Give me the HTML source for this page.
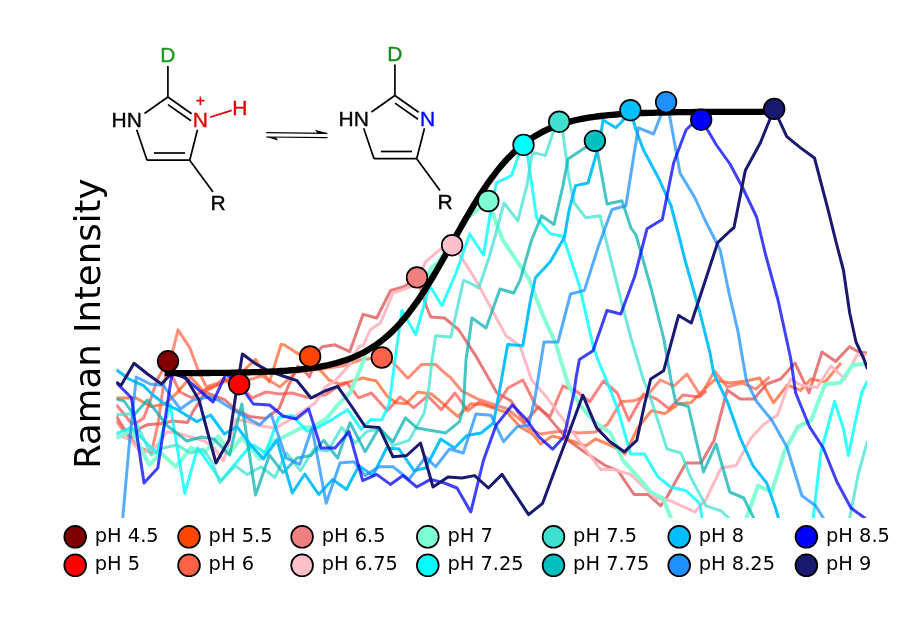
<!DOCTYPE html>
<html><head><meta charset="utf-8"><title>Raman Intensity vs pH</title>
<style>
html,body{margin:0;padding:0;background:#fff;}
body{width:915px;height:642px;overflow:hidden;}
svg{display:block;}
.dj{font-family:"DejaVu Sans","Liberation Sans",sans-serif;}
.ar{font-family:"Liberation Sans","DejaVu Sans",sans-serif;}
</style></head><body>
<svg width="915" height="642" viewBox="0 0 915 642">
<defs><clipPath id="ax"><rect x="116.3" y="0" width="750.7" height="518"/></clipPath></defs>
<rect width="915" height="642" fill="#fff"/>

<g clip-path="url(#ax)" fill="none" stroke-linejoin="round" stroke-linecap="butt">
<polyline points="116.2,404.6 123.0,412.8 131.7,423.7 137.0,422.6 143.7,418.0 148.0,407.0 152.4,394.0 157.0,380.0 164.0,368.0 172.0,376.0 180.0,392.0 192.0,398.0 206.0,389.0 218.2,384.0 226.0,380.0 239.0,384.0 252.0,398.0 266.0,392.0 280.0,394.0 291.8,393.0 309.5,397.9 325.2,394.9 337.0,387.0 346.9,383.0 358.7,397.9 371.5,393.0 387.2,410.7 400.0,396.9 413.8,407.7 427.6,395.9 441.3,409.7 455.0,393.0 467.7,410.7 479.5,401.8 495.0,407.7 508.0,388.0 522.8,380.0 536.6,406.7 550.0,416.6 563.0,386.0 576.0,391.0 589.7,401.8 603.5,381.0 617.2,393.0 628.9,420.5 643.6,394.0 656.4,398.9 669.0,408.7 683.0,395.0 698.7,396.9 706.6,391.0" stroke="rgba(250,45,45,0.6)" stroke-width="3.0"/>
<polyline points="116.3,398.0 135.6,397.7 151.3,406.6 165.0,404.0 177.0,392.8 190.7,377.0 204.0,392.0 218.0,385.0 230.0,378.0 242.0,372.0 255.6,359.4 269.4,382.0 281.0,344.6 284.0,344.8 297.7,353.6 310.0,362.0 322.3,372.3 329.0,380.0 339.0,384.0 348.9,382.0 362.6,378.0 376.4,381.0 387.0,396.0 396.0,402.8 406.0,403.8 417.7,392.0 431.5,394.0 443.3,403.8 457.9,416.6 470.7,403.8 483.4,404.8 507.0,412.6 520.8,427.4 532.6,434.0 540.5,444.0 552.3,436.0 572.0,441.0 585.7,446.0 595.6,439.0 607.4,444.0 619.2,450.0 625.0,454.0 637.7,428.0 651.5,410.7 665.0,413.6 679.0,403.8 690.8,402.8 704.6,389.0 714.4,380.0 730.0,383.0 746.0,381.0 759.7,378.0 773.5,402.8 787.5,385.0 800.5,390.4 811.0,379.0 825.0,382.0 841.0,363.0" stroke="rgba(255,69,0,0.62)" stroke-width="3.0"/>
<polyline points="116.3,421.0 126.0,434.0 139.5,447.0 151.3,453.0 158.0,423.7 163.4,385.5 170.0,362.0 178.0,329.9 189.7,347.6 198.6,371.2 206.4,387.0 218.2,383.0 224.0,378.0 236.0,392.0 248.0,380.0 262.0,376.0 280.0,387.0 295.7,372.3 319.3,369.3 345.0,365.4 360.0,360.0 381.8,357.0 393.0,362.5 407.9,378.2 421.6,364.4 435.4,364.4 447.2,375.2 450.0,377.0 461.8,391.0 477.5,398.9 495.0,404.8 507.0,408.7 518.9,418.5 528.7,428.4 540.5,434.0 554.3,432.0 566.0,431.0 577.9,433.0 595.6,432.0 607.4,424.4 621.0,401.8 633.8,400.8 647.5,395.0 660.3,380.0 674.0,386.0 686.9,374.0 700.7,396.0 714.4,371.0 727.2,387.0 742.0,383.0 755.7,389.0 769.5,377.0" stroke="rgba(255,99,71,0.72)" stroke-width="3.0"/>
<polyline points="116.2,416.0 123.0,427.0 131.0,437.0 134.0,437.0 140.4,428.0 147.0,424.8 160.0,423.7 173.2,421.0 187.4,422.6 192.9,411.7 199.4,401.9 204.9,392.0 212.0,395.0 225.0,400.0 236.0,410.0 249.7,416.4 265.5,418.4 279.0,408.6 287.9,387.0 297.7,366.4 303.0,369.0 309.5,377.0 319.3,349.7 322.3,346.7 335.0,344.8 349.8,351.6 363.0,314.4 376.7,318.0 390.6,290.5 404.0,286.7 417.0,277.4 419.5,285.5 427.0,308.0 430.8,317.0 444.6,318.0 458.9,330.0 475.6,355.6 497.0,393.0 511.0,400.8 524.8,422.5 538.5,406.7 548.0,416.6 568.0,440.0 584.0,451.8 605.4,465.6 618.0,470.6 634.0,494.5 648.0,494.5 660.7,505.8 667.0,497.0 685.9,463.0 701.0,463.0 714.0,440.4 727.2,390.0 740.0,398.9 753.8,398.9 766.8,384.0 780.6,379.0 795.0,363.0 809.0,392.7 822.0,352.0 835.7,361.4 849.5,346.8 858.6,352.0 867.5,353.0" stroke="rgba(225,90,90,0.8)" stroke-width="3.0"/>
<polyline points="116.3,434.0 130.0,440.0 141.5,453.0 155.0,448.0 167.0,432.0 177.0,433.0 190.7,437.0 204.5,441.0 214.0,448.0 223.5,461.0 235.4,419.5 247.7,421.6 259.6,425.5 275.3,428.5 291.8,418.5 303.6,410.7 315.4,402.8 325.2,387.0 335.0,381.0 348.9,365.4 358.7,346.7 363.0,345.8 370.4,329.5 380.5,323.0 393.0,293.0 400.6,290.5 415.0,285.0 425.7,261.6 440.8,249.0 452.0,245.0 461.0,256.6 476.0,280.4 491.0,308.0 506.0,335.7 520.0,345.7 531.6,380.0 545.0,395.2 600.4,469.4 613.0,469.4 630.6,474.4 655.7,498.3 670.8,500.8 694.7,512.0 706.0,499.5 721.0,468.0 736.0,465.6 751.0,438.0 763.6,424.4 777.5,415.0 790.5,379.0 800.5,385.0 817.3,387.4 831.0,366.0 844.9,379.0 857.0,355.0 867.5,354.5" stroke="rgba(255,182,193,0.95)" stroke-width="3.0"/>
<polyline points="116.3,438.3 131.7,430.4 140.0,447.0 149.4,464.9 161.0,453.0 176.0,466.8 190.7,448.0 204.5,453.0 218.2,436.3 230.0,453.0 241.8,437.3 259.6,459.0 273.3,441.0 283.0,437.3 301.0,428.0 313.6,426.6 326.0,419.0 337.6,405.0 350.0,392.7 357.7,375.0 364.0,360.0 365.4,351.0 390.0,336.0 398.0,326.0 420.0,300.0 431.0,268.0 438.0,263.0 463.0,222.0 476.0,211.0 488.0,201.0 492.6,213.0 502.7,240.0 529.0,279.0 543.0,315.5 555.5,343.0 566.8,380.0 567.7,383.9 580.0,405.0 594.0,421.6 610.4,432.9 623.0,460.5 638.0,476.9 650.7,492.0 663.0,498.0 670.8,518.0 673.0,530.0 744.0,530.0 746.6,518.0 758.0,485.7 771.7,492.0 784.3,451.8 798.0,426.6 811.2,420.3 825.0,384.3 840.3,382.8 852.5,365.0 867.5,363.7" stroke="rgba(127,255,212,0.95)" stroke-width="4.1"/>
<polyline points="116.3,433.4 131.7,427.5 141.5,438.0 157.0,453.0 170.0,404.0 184.8,493.4 197.6,448.0 221.0,480.6 247.7,449.0 253.6,445.0 265.5,453.0 278.7,417.5 292.5,415.6 307.2,431.3 318.0,427.4 333.0,419.0 347.6,409.7 361.3,429.3 371.0,419.5 381.6,420.0 389.0,405.0 395.0,360.0 401.9,310.6 415.7,334.5 429.5,285.5 442.0,305.6 456.0,273.0 469.7,234.0 483.6,255.0 490.0,215.0 496.4,183.0 511.5,175.5 518.0,157.0 523.5,145.0 527.8,157.0 536.6,218.0 550.4,233.8 563.0,236.3 579.4,285.4 593.0,345.7 598.0,360.0 605.4,377.6 618.0,410.0 630.6,454.0 644.4,454.0 658.0,477.0 670.8,487.0 686.0,490.7 699.7,503.3 702.0,518.0 704.0,530.0 811.0,530.0 813.2,518.0 820.7,453.0 834.6,401.5 843.3,428.0 848.4,455.5 854.0,428.0 861.7,392.7 867.5,381.0" stroke="rgba(0,255,255,0.8)" stroke-width="3.0"/>
<polyline points="116.3,414.7 131.7,413.7 151.3,455.0 163.0,448.0 177.0,445.0 190.7,453.0 203.0,449.0 212.0,462.0 219.7,482.5 235.4,465.7 247.2,474.6 261.0,466.7 274.8,477.5 286.6,453.0 300.4,470.7 314.0,449.0 328.0,451.0 341.6,427.4 355.4,443.0 367.2,431.3 380.0,429.3 393.0,445.5 409.0,440.4 424.3,412.8 429.3,385.0 432.0,360.0 435.8,335.7 450.9,337.0 463.5,280.4 470.0,283.0 478.8,288.0 489.0,257.7 494.0,240.0 504.0,203.0 517.8,220.8 527.0,185.0 532.3,152.4 545.4,155.4 553.0,132.8 559.0,122.0 563.0,134.0 569.3,180.5 574.3,203.0 585.6,217.7 600.0,215.7 607.0,244.0 622.0,304.0 631.0,338.0 643.5,380.0 648.0,390.0 667.0,449.0 681.0,453.0 691.0,478.0 706.0,505.8 721.0,510.8 728.6,518.0 731.0,530.0 848.0,530.0 849.7,518.0 858.5,473.0 867.5,441.0" stroke="rgba(64,224,208,0.75)" stroke-width="3.0"/>
<polyline points="116.3,399.0 124.0,401.0 134.0,415.0 147.4,400.0 167.0,425.5 186.8,441.0 201.5,437.0 214.0,439.0 229.5,455.0 241.8,404.0 255.6,495.0 269.4,455.0 283.0,472.7 297.0,458.0 311.0,455.5 323.7,440.4 337.6,458.0 350.0,422.8 365.2,451.8 379.0,427.9 393.0,441.7 405.5,417.8 416.8,427.9 445.7,432.9 459.5,421.6 463.3,407.8 466.0,360.0 472.0,318.0 486.0,328.0 500.0,289.0 513.7,293.0 520.0,280.4 531.6,240.0 541.6,215.7 554.0,224.5 563.0,185.6 568.0,159.0 586.9,146.6 595.0,141.0 598.0,155.0 607.0,204.0 622.0,200.7 631.0,228.0 636.0,235.0 651.0,288.0 663.6,338.0 671.0,380.0 675.8,402.7 688.4,406.5 703.5,471.9 716.0,444.0 729.8,492.0 743.7,498.0 753.7,518.0 755.0,521.0" stroke="rgba(0,175,175,0.72)" stroke-width="3.0"/>
<polyline points="116.3,369.8 129.0,379.0 143.5,385.6 152.7,394.8 162.8,402.7 177.9,410.0 196.7,421.6 210.6,415.0 224.4,434.0 237.0,426.6 250.8,445.0 263.3,459.0 277.0,440.0 292.3,493.0 304.8,474.0 318.7,494.5 332.6,479.4 346.4,489.5 359.0,465.6 372.8,475.6 386.6,448.0 399.0,449.0 414.0,470.6 425.6,468.0 440.7,439.0 454.5,448.0 467.0,435.4 481.0,433.0 493.5,423.0 501.4,380.0 507.7,344.4 522.8,345.7 530.0,303.0 535.4,277.8 550.4,261.5 564.3,237.6 569.0,210.7 575.6,185.6 588.0,183.0 599.5,143.0 603.0,120.0 615.8,127.8 622.0,121.5 630.4,110.0 636.0,130.0 643.5,150.0 658.5,178.0 671.0,205.7 680.0,240.0 685.0,260.0 700.0,313.0 710.0,353.0 713.5,372.6 727.7,402.7 740.3,438.0 752.9,465.6 766.7,483.0 775.5,508.0 778.5,518.0 779.5,521.0" stroke="rgba(0,191,255,0.95)" stroke-width="3.0"/>
<polyline points="122.6,520.0 129.0,447.0 136.3,377.0 150.0,384.0 163.6,385.5 172.0,398.0 180.4,409.0 193.0,400.0 209.3,397.0 218.0,400.0 238.0,412.8 259.6,424.9 271.0,414.0 278.4,435.4 286.0,458.0 299.8,464.3 312.0,428.0 326.2,503.3 340.0,463.0 354.0,461.8 365.2,475.6 379.0,466.8 393.0,466.8 409.0,479.4 425.6,456.8 435.6,466.8 449.5,449.0 463.3,453.0 475.9,414.0 491.0,415.3 503.5,441.7 517.3,426.6 528.6,425.4 535.0,397.7 537.9,380.0 544.0,342.0 558.0,342.0 570.5,294.0 584.4,290.4 598.0,247.6 608.0,220.0 612.0,209.5 625.9,205.7 634.7,150.0 638.4,127.8 653.5,134.0 661.0,115.0 666.0,102.0 670.0,117.7 680.0,173.0 695.0,198.0 705.0,220.0 720.2,250.0 729.0,293.0 737.8,330.6 742.8,360.0 746.6,381.4 756.6,401.5 771.7,420.0 786.8,446.7 801.9,495.7 815.7,505.8 823.3,518.0 825.0,521.0" stroke="rgba(30,144,255,0.75)" stroke-width="3.0"/>
<polyline points="116.3,382.6 131.4,397.7 144.0,483.0 157.8,468.0 171.6,376.0 176.0,372.0 185.0,378.0 199.0,390.0 213.0,402.0 226.0,374.0 239.0,384.0 253.3,404.0 269.6,405.0 283.0,416.0 296.0,419.0 308.6,409.0 321.0,448.0 335.0,448.0 349.0,431.6 362.7,480.7 376.6,474.4 390.4,484.4 403.0,475.6 416.8,487.0 430.6,479.4 444.4,483.0 457.0,488.0 470.8,512.0 483.4,460.5 496.0,425.4 512.3,405.0 526.0,419.0 538.7,436.7 552.6,449.2 564.0,436.7 574.0,392.7 576.0,378.0 579.4,359.5 593.0,350.7 607.0,310.5 620.8,314.0 634.7,276.6 647.0,228.8 662.3,219.5 673.6,163.0 686.0,130.0 691.0,125.0 701.0,120.0 707.6,130.0 716.4,145.0 730.0,164.0 742.8,188.0 756.6,217.0 765.4,254.0 778.0,300.0 790.6,358.0 795.6,392.7 809.4,426.6 823.3,448.0 837.0,482.0 851.0,508.0 864.7,518.0 868.0,521.0" stroke="rgba(0,0,255,0.75)" stroke-width="3.0"/>
<polyline points="116.0,382.0 121.0,385.5 134.0,363.3 147.5,374.0 161.4,384.0 172.0,373.0 186.0,378.0 199.0,400.0 207.0,430.0 216.0,463.0 229.0,440.0 235.0,400.0 242.4,354.0 256.0,364.0 269.0,371.0 283.0,376.0 297.0,380.7 311.0,398.0 325.0,391.0 337.6,386.4 350.0,404.0 365.2,426.6 379.0,427.4 393.0,456.8 406.7,455.5 420.5,443.0 433.0,487.0 448.0,477.0 462.0,478.0 474.6,475.6 488.4,488.0 502.0,474.4 515.0,494.0 528.6,514.6 542.6,503.3 556.0,467.0 569.6,431.0 582.8,395.2 596.6,427.9 610.0,441.7 624.3,451.8 636.8,440.4 644.4,405.0 650.7,378.9 663.6,370.8 678.6,315.5 691.3,323.0 704.5,283.0 717.7,242.6 730.0,231.0 734.0,227.5 745.3,170.5 760.4,142.8 770.5,117.7 774.0,109.0 778.0,117.7 786.8,136.6 800.6,147.9 814.5,158.0 828.3,210.7 835.8,241.0 843.4,270.0 849.7,313.0 856.0,342.0 863.5,358.0 867.5,369.0" stroke="rgba(25,25,112,1)" stroke-width="3.0"/>
</g>
<polyline points="164.5,373.2 168.5,373.2 172.5,373.2 176.5,373.2 180.5,373.2 184.5,373.1 188.5,373.1 192.5,373.1 196.5,373.1 200.5,373.0 204.5,373.0 208.5,373.0 212.5,372.9 216.5,372.9 220.5,372.9 224.5,372.8 228.5,372.8 232.5,372.7 236.5,372.6 240.5,372.5 244.5,372.5 248.5,372.4 252.5,372.2 256.5,372.1 260.5,372.0 264.5,371.8 268.5,371.7 272.5,371.5 276.5,371.3 280.5,371.0 284.5,370.8 288.5,370.5 292.5,370.1 296.5,369.8 300.5,369.4 304.5,368.9 308.5,368.4 312.5,367.9 316.5,367.3 320.5,366.6 324.5,365.8 328.5,365.0 332.5,364.0 336.5,363.0 340.5,361.8 344.5,360.6 348.5,359.2 352.5,357.6 356.5,355.9 360.5,354.0 364.5,352.0 368.5,349.7 372.5,347.2 376.5,344.5 380.5,341.6 384.5,338.4 388.5,334.9 392.5,331.2 396.5,327.1 400.5,322.8 404.5,318.1 408.5,313.2 412.5,307.9 416.5,302.4 420.5,296.5 424.5,290.4 428.5,284.1 432.5,277.5 436.5,270.7 440.5,263.7 444.5,256.7 448.5,249.5 452.5,242.3 456.5,235.1 460.5,228.0 464.5,220.9 468.5,214.0 472.5,207.2 476.5,200.6 480.5,194.3 484.5,188.2 488.5,182.3 492.5,176.8 496.5,171.6 500.5,166.6 504.5,162.0 508.5,157.7 512.5,153.6 516.5,149.9 520.5,146.5 524.5,143.3 528.5,140.3 532.5,137.6 536.5,135.2 540.5,132.9 544.5,130.9 548.5,129.0 552.5,127.3 556.5,125.8 560.5,124.4 564.5,123.1 568.5,122.0 572.5,120.9 576.5,120.0 580.5,119.2 584.5,118.4 588.5,117.7 592.5,117.1 596.5,116.5 600.5,116.0 604.5,115.6 608.5,115.2 612.5,114.8 616.5,114.5 620.5,114.2 624.5,114.0 628.5,113.7 632.5,113.5 636.5,113.3 640.5,113.2 644.5,113.0 648.5,112.9 652.5,112.8 656.5,112.6 660.5,112.5 664.5,112.5 668.5,112.4 672.5,112.3 676.5,112.2 680.5,112.2 684.5,112.1 688.5,112.1 692.5,112.1 696.5,112.0 700.5,112.0 704.5,112.0 708.5,111.9 712.5,111.9 716.5,111.9 720.5,111.9 724.5,111.8 728.5,111.8 732.5,111.8 736.5,111.8 740.5,111.8 744.5,111.8 748.5,111.8 752.5,111.8 756.5,111.8 760.5,111.8 764.5,111.7 768.5,111.7 772.5,111.7 774.0,111.7" fill="none" stroke="#000" stroke-width="6.3" stroke-linejoin="round"/>
<circle cx="168" cy="361.3" r="10.35" fill="#800000" stroke="#000" stroke-width="1.65"/>
<circle cx="239.2" cy="384.2" r="10.35" fill="#ff0000" stroke="#000" stroke-width="1.65"/>
<circle cx="310.1" cy="356.4" r="10.35" fill="#ff4500" stroke="#000" stroke-width="1.65"/>
<circle cx="381.8" cy="357.5" r="10.35" fill="#ff6347" stroke="#000" stroke-width="1.65"/>
<circle cx="417" cy="277.4" r="10.35" fill="#f08080" stroke="#000" stroke-width="1.65"/>
<circle cx="452.1" cy="245.2" r="10.35" fill="#ffc0cb" stroke="#000" stroke-width="1.65"/>
<circle cx="488.3" cy="201" r="10.35" fill="#7fffd4" stroke="#000" stroke-width="1.65"/>
<circle cx="523.5" cy="144.9" r="10.35" fill="#00ffff" stroke="#000" stroke-width="1.65"/>
<circle cx="559.2" cy="121.7" r="10.35" fill="#40e0d0" stroke="#000" stroke-width="1.65"/>
<circle cx="594.9" cy="140.8" r="10.35" fill="#00bfbf" stroke="#000" stroke-width="1.65"/>
<circle cx="630.4" cy="110.2" r="10.35" fill="#00bfff" stroke="#000" stroke-width="1.65"/>
<circle cx="666.1" cy="102.1" r="10.35" fill="#1e90ff" stroke="#000" stroke-width="1.65"/>
<circle cx="701.2" cy="119.7" r="10.35" fill="#0000ff" stroke="#000" stroke-width="1.65"/>
<circle cx="774.2" cy="108.9" r="10.35" fill="#191970" stroke="#000" stroke-width="1.65"/>
<circle cx="75.2" cy="536.85" r="10.9" fill="#800000" stroke="#000" stroke-width="1.7"/>
<text class="dj" x="94.8" y="541.6" font-size="19.4" fill="#000">pH 4.5</text>
<circle cx="75.2" cy="565.35" r="10.9" fill="#ff0000" stroke="#000" stroke-width="1.7"/>
<text class="dj" x="94.8" y="570.1" font-size="19.4" fill="#000">pH 5</text>
<circle cx="189" cy="536.85" r="10.9" fill="#ff4500" stroke="#000" stroke-width="1.7"/>
<text class="dj" x="208.6" y="541.6" font-size="19.4" fill="#000">pH 5.5</text>
<circle cx="189" cy="565.35" r="10.9" fill="#ff6347" stroke="#000" stroke-width="1.7"/>
<text class="dj" x="208.6" y="570.1" font-size="19.4" fill="#000">pH 6</text>
<circle cx="302.1" cy="536.85" r="10.9" fill="#f08080" stroke="#000" stroke-width="1.7"/>
<text class="dj" x="321.7" y="541.6" font-size="19.4" fill="#000">pH 6.5</text>
<circle cx="302.1" cy="565.35" r="10.9" fill="#ffc0cb" stroke="#000" stroke-width="1.7"/>
<text class="dj" x="321.7" y="570.1" font-size="19.4" fill="#000">pH 6.75</text>
<circle cx="427.8" cy="536.85" r="10.9" fill="#7fffd4" stroke="#000" stroke-width="1.7"/>
<text class="dj" x="447.4" y="541.6" font-size="19.4" fill="#000">pH 7</text>
<circle cx="427.8" cy="565.35" r="10.9" fill="#00ffff" stroke="#000" stroke-width="1.7"/>
<text class="dj" x="447.4" y="570.1" font-size="19.4" fill="#000">pH 7.25</text>
<circle cx="553.5" cy="536.85" r="10.9" fill="#40e0d0" stroke="#000" stroke-width="1.7"/>
<text class="dj" x="573.1" y="541.6" font-size="19.4" fill="#000">pH 7.5</text>
<circle cx="553.5" cy="565.35" r="10.9" fill="#00bfbf" stroke="#000" stroke-width="1.7"/>
<text class="dj" x="573.1" y="570.1" font-size="19.4" fill="#000">pH 7.75</text>
<circle cx="679.2" cy="536.85" r="10.9" fill="#00bfff" stroke="#000" stroke-width="1.7"/>
<text class="dj" x="698.8" y="541.6" font-size="19.4" fill="#000">pH 8</text>
<circle cx="679.2" cy="565.35" r="10.9" fill="#1e90ff" stroke="#000" stroke-width="1.7"/>
<text class="dj" x="698.8" y="570.1" font-size="19.4" fill="#000">pH 8.25</text>
<circle cx="806.4" cy="536.85" r="10.9" fill="#0000ff" stroke="#000" stroke-width="1.7"/>
<text class="dj" x="826.0" y="541.6" font-size="19.4" fill="#000">pH 8.5</text>
<circle cx="806.4" cy="565.35" r="10.9" fill="#191970" stroke="#000" stroke-width="1.7"/>
<text class="dj" x="826.0" y="570.1" font-size="19.4" fill="#000">pH 9</text>
<text class="dj" transform="translate(99.7,468.8) rotate(-90)" font-size="35.5" fill="#000">Raman Intensity</text>
<line x1="167.9" y1="66.0" x2="167.9" y2="97.0" stroke="#000" stroke-width="1.7"/>
<line x1="167.9" y1="97.0" x2="144.5" y2="113.5" stroke="#000" stroke-width="1.7"/>
<line x1="167.9" y1="97.0" x2="191.6" y2="113.8" stroke="#000" stroke-width="1.7"/>
<line x1="168.0" y1="104.6" x2="191.0" y2="120.8" stroke="#000" stroke-width="1.7"/>
<line x1="197.5" y1="129.7" x2="189.7" y2="160.2" stroke="#000" stroke-width="1.7"/>
<line x1="189.7" y1="160.2" x2="147.0" y2="160.2" stroke="#000" stroke-width="1.7"/>
<line x1="153.9" y1="153.0" x2="185.0" y2="153.0" stroke="#000" stroke-width="1.7"/>
<line x1="147.0" y1="160.2" x2="136.7" y2="129.7" stroke="#000" stroke-width="1.7"/>
<line x1="189.7" y1="160.2" x2="213.0" y2="192.0" stroke="#000" stroke-width="1.7"/>
<text class="ar" x="160.2" y="62.4" font-size="21" fill="#1a9a1a" stroke="#1a9a1a" stroke-width="0.35">D</text>
<text class="ar" x="111.6" y="127.2" font-size="21" fill="#000" stroke="#000" stroke-width="0.35">HN</text>
<text class="ar" x="210.4" y="210.0" font-size="21" fill="#000" stroke="#000" stroke-width="0.35">R</text>
<text class="ar" x="192.8" y="127.3" font-size="21" fill="#e00000" stroke="#e00000" stroke-width="0.35">N</text>
<text class="ar" x="232.3" y="115.0" font-size="21" fill="#e00000" stroke="#e00000" stroke-width="0.35">H</text>
<text class="ar" x="195.8" y="105.5" font-size="16" fill="#e00000" stroke="#e00000" stroke-width="0.35">+</text>
<line x1="210.0" y1="117.2" x2="231.7" y2="110.4" stroke="#e00000" stroke-width="1.7"/>
<line x1="394.9" y1="64.5" x2="394.9" y2="95.5" stroke="#000" stroke-width="1.7"/>
<line x1="394.9" y1="95.5" x2="371.5" y2="112.0" stroke="#000" stroke-width="1.7"/>
<line x1="394.9" y1="95.5" x2="418.6" y2="112.3" stroke="#000" stroke-width="1.7"/>
<line x1="395.0" y1="103.1" x2="418.0" y2="119.3" stroke="#000" stroke-width="1.7"/>
<line x1="424.5" y1="128.2" x2="416.7" y2="158.7" stroke="#000" stroke-width="1.7"/>
<line x1="416.7" y1="158.7" x2="374.0" y2="158.7" stroke="#000" stroke-width="1.7"/>
<line x1="380.9" y1="151.5" x2="412.0" y2="151.5" stroke="#000" stroke-width="1.7"/>
<line x1="374.0" y1="158.7" x2="363.7" y2="128.2" stroke="#000" stroke-width="1.7"/>
<line x1="416.7" y1="158.7" x2="440.0" y2="190.5" stroke="#000" stroke-width="1.7"/>
<text class="ar" x="387.2" y="60.9" font-size="21" fill="#1a8a1a" stroke="#1a8a1a" stroke-width="0.35">D</text>
<text class="ar" x="338.6" y="125.7" font-size="21" fill="#000" stroke="#000" stroke-width="0.35">HN</text>
<text class="ar" x="437.4" y="208.5" font-size="21" fill="#000" stroke="#000" stroke-width="0.35">R</text>
<text class="ar" x="420.0" y="125.8" font-size="21" fill="#0000ff" stroke="#0000ff" stroke-width="0.35">N</text>
<g stroke="#000" stroke-width="1.25" fill="#000"><line x1="266.2" y1="132.7" x2="327.3" y2="133.3"/><line x1="266.4" y1="137.0" x2="327.5" y2="137.6"/><path d="M328 133.6 L315.2 129.7 L317.2 132.9 Z" stroke="none"/><path d="M265.8 136.7 L278 140.6 L276.2 137.4 Z" stroke="none"/></g>
</svg></body></html>
